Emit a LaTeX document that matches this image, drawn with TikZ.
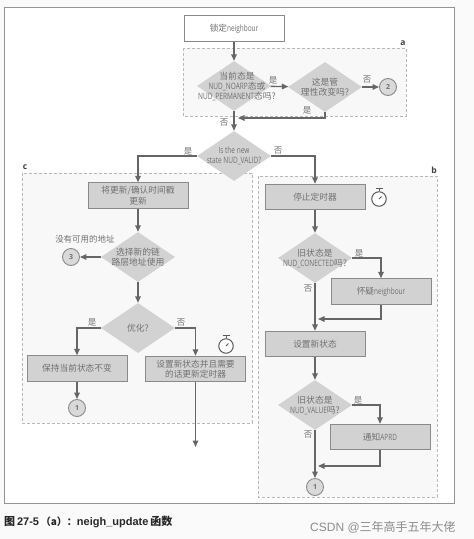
\documentclass[tikz,border=0pt]{standalone}
\usepackage{fontspec}
\setmainfont{Open Sans}
\newfontfamily\cjk{Noto Sans CJK SC}
\newfontfamily\narrow[FakeStretch=0.74]{Open Sans}
\newfontfamily\capfont{Liberation Sans}
\newcommand{\zh}[1]{{\cjk #1}}
\usetikzlibrary{shapes.geometric,arrows.meta}
\definecolor{ink}{HTML}{707070}
\definecolor{wire}{HTML}{666666}
\definecolor{boxfill}{HTML}{D2D2D2}
\definecolor{boxline}{HTML}{8A8A8A}
\definecolor{zone}{HTML}{F8F8F8}
\tikzset{
  x=1pt,y=-1pt,
  frame/.style={draw=black!42,line width=1pt,fill=white},
  zonebox/.style={draw=black!28,densely dashed,line width=.6pt,fill=zone},
  procbox/.style={draw=boxline,line width=.9pt,fill=boxfill,minimum width=100pt,minimum height=25.5pt,inner sep=0pt,align=center,text=ink,font=\fontsize{8.7}{10.5}\selectfont},
  startbox/.style={procbox,fill=white},
  dia/.style={diamond,fill=boxfill,draw=none,minimum width=74pt,minimum height=50pt,inner sep=0pt},
  diatext/.style={align=center,inner sep=0pt,text=ink,font=\fontsize{8.8}{10}\selectfont},
  conn/.style={draw=wire,line width=1.4pt,-{Triangle[length=6.5pt,width=5.5pt]}},
  onpage/.style={circle,draw=boxline,line width=.9pt,fill=boxfill!85!white,minimum size=17pt,inner sep=0pt,text=ink,font=\fontsize{7}{8}\bfseries\selectfont},
  lab/.style={inner sep=0pt,text=ink,font=\fontsize{8.5}{9}\selectfont\cjk},
  zonelab/.style={inner sep=0pt,text=black!75,font=\fontsize{8.5}{10}\bfseries\selectfont},
  clock/.style={circle,draw=black!65,line width=1pt,fill=white,minimum size=14.5pt,inner sep=0pt},
  clockline/.style={draw=black!65,line width=1pt},
}
\newcommand{\stopwatch}[3]{%
  \node[clock] (#1) at (#2,#3) {};
  \draw[clockline] (#1.north) -- ++(0,-2.5) ++(-3.5,0) -- ++(7,0);
  \draw[clockline,line width=.8pt] (#1.center) -- ++(2.5,-2.5);
}
\begin{document}
\begin{tikzpicture}
\useasboundingbox (0,0) rectangle (474,539);
\fill[white!98!black] (0,0) rectangle (474,539);
\draw[frame] (4,7) rectangle (454,503);
% zones
\draw[zonebox] (183,48) rectangle (406,116);
\draw[zonebox] (22,173) rectangle (252,423);
\draw[zonebox] (258,176) rectangle (437,497);
\node[zonelab] (za) at (403,43) {a};
\node[zonelab] (zb) at (434,170) {b};
\node[zonelab] (zc) at (25,167) {c};
% top
\node[startbox] (start) at (234,28.5) {\zh{锁定}{\narrow neighbour}};
\node[dia] (d1) at (234,86) {};
\node[diatext] (d1t) at (237,86) {\zh{当前态是}\\{\narrow NUD\_NOARP}\zh{态或}\\{\narrow NUD\_PERMANENT}\zh{态吗?}};
\node[dia] (d2) at (325,87) {};
\node[diatext] (d2t) at (d2) {\zh{这是管}\\\zh{理性改变吗?}};
\node[onpage] (p2) at (388,87) {2};
\node[dia] (d3) at (234,156) {};
\node[diatext] (d3t) at (d3) {{\narrow Is the new}\\{\narrow state NUD\_VALID?}};
% c
\node[procbox] (c1) at (138,195.5) {\zh{将更新/确认时间戳}\\\zh{更新}};
\node[dia] (c2) at (138,257) {};
\node[diatext] (c2t) at (c2) {\zh{选择新的链}\\\zh{路层地址使用}};
\node[onpage] (p3) at (71,257) {3};
\node[dia] (c3) at (138,328) {};
\node[diatext] (c3t) at (c3) {\zh{优化?}};
\node[procbox] (c4) at (77,368.5) {\zh{保持当前状态不变}};
\node[procbox] (c5) at (195.5,369) {\zh{设置新状态并且需要}\\\zh{的话更新定时器}};
\node[onpage] (p1a) at (77,408) {1};
\coordinate (cend) at (195,447);
% b
\node[procbox] (b1) at (315,197) {\zh{停止定时器}};
\node[dia] (b2) at (315,258) {};
\node[diatext] (b2t) at (b2) {\zh{旧状态是}\\{\narrow NUD\_CONECTED}\zh{吗?}};
\node[procbox] (b3) at (381,291.5) {\zh{怀疑}{\narrow neighbour}};
\node[procbox] (b4) at (315,344) {\zh{设置新状态}};
\node[dia] (b5) at (315,405) {};
\node[diatext] (b5t) at (b5) {\zh{旧状态是}\\{\narrow NUD\_VALUE}\zh{吗?}};
\node[procbox] (b6) at (380,437) {\zh{通知}{\narrow APRD}};
\node[onpage] (p1b) at (315,487) {1};
% joins
\coordinate (j1) at (238,118);
\coordinate (j2) at (318,319);
\coordinate (j3) at (318,466);
% connectors
\draw[conn] (start) -- (d1);
\draw[conn] (d1) -- (d2);
\draw[conn] (d2) -- (p2);
\draw[conn] (d2.south) |- (j1);
\draw[conn] (d1) -- (d3);
\draw[conn] (d3.west) -| (c1.north);
\draw[conn] (d3.east) -| (b1.north);
\draw[conn] (c1) -- (c2);
\draw[conn] (c2) -- (p3);
\draw[conn] (c2) -- (c3);
\draw[conn] (c3.west) -| (c4.north);
\draw[conn] (c3.east) -| (c5.north);
\draw[conn] (c4) -- (p1a);
\draw[conn] (c5.south) -- (c5.south |- cend);
\draw[conn] (b1) -- (b2);
\draw[conn] (b2.east) -| (b3.north);
\draw[conn] (b3.south) |- (j2);
\draw[conn] (b2) -- (b4);
\draw[conn] (b4) -- (b5);
\draw[conn] (b5.east) -| (b6.north);
\draw[conn] (b6.south) |- (j3);
\draw[conn] (b5) -- (p1b);
% labels
\node[lab] (l1) at (273,80) {是};
\node[lab] (l2) at (367,80) {否};
\node[lab] (l3) at (307,110) {是};
\node[lab] (l4) at (224,123) {否};
\node[lab] (l5) at (188,151) {是};
\node[lab] (l6) at (278,151) {否};
\node[lab] (l7) at (92,322) {是};
\node[lab] (l8) at (181,323) {否};
\node[lab] (l9) at (359,253) {是};
\node[lab] (l10) at (308,289) {否};
\node[lab] (l11) at (358,400) {是};
\node[lab] (l12) at (308,435) {否};
\node[lab] (l13) at (85,239) {没有可用的地址};
% timers
\stopwatch{t1}{226}{346}
\stopwatch{t2}{379}{199}
% caption
\node[anchor=west,inner sep=0pt,text=black!85,font=\fontsize{11}{12}\selectfont\capfont] (cap) at (4,522) {\textbf{\zh{图}\,27-5\,{\fontsize{10}{12}\selectfont\zh{（a）：}}neigh\_update\,\zh{函数}}};
\node[anchor=west,inner sep=0pt,text=black!45,font=\fontsize{12}{14}\selectfont\capfont] (csdn) at (310,527) {CSDN @\zh{三年高手五年大佬}};
\end{tikzpicture}
\end{document}
